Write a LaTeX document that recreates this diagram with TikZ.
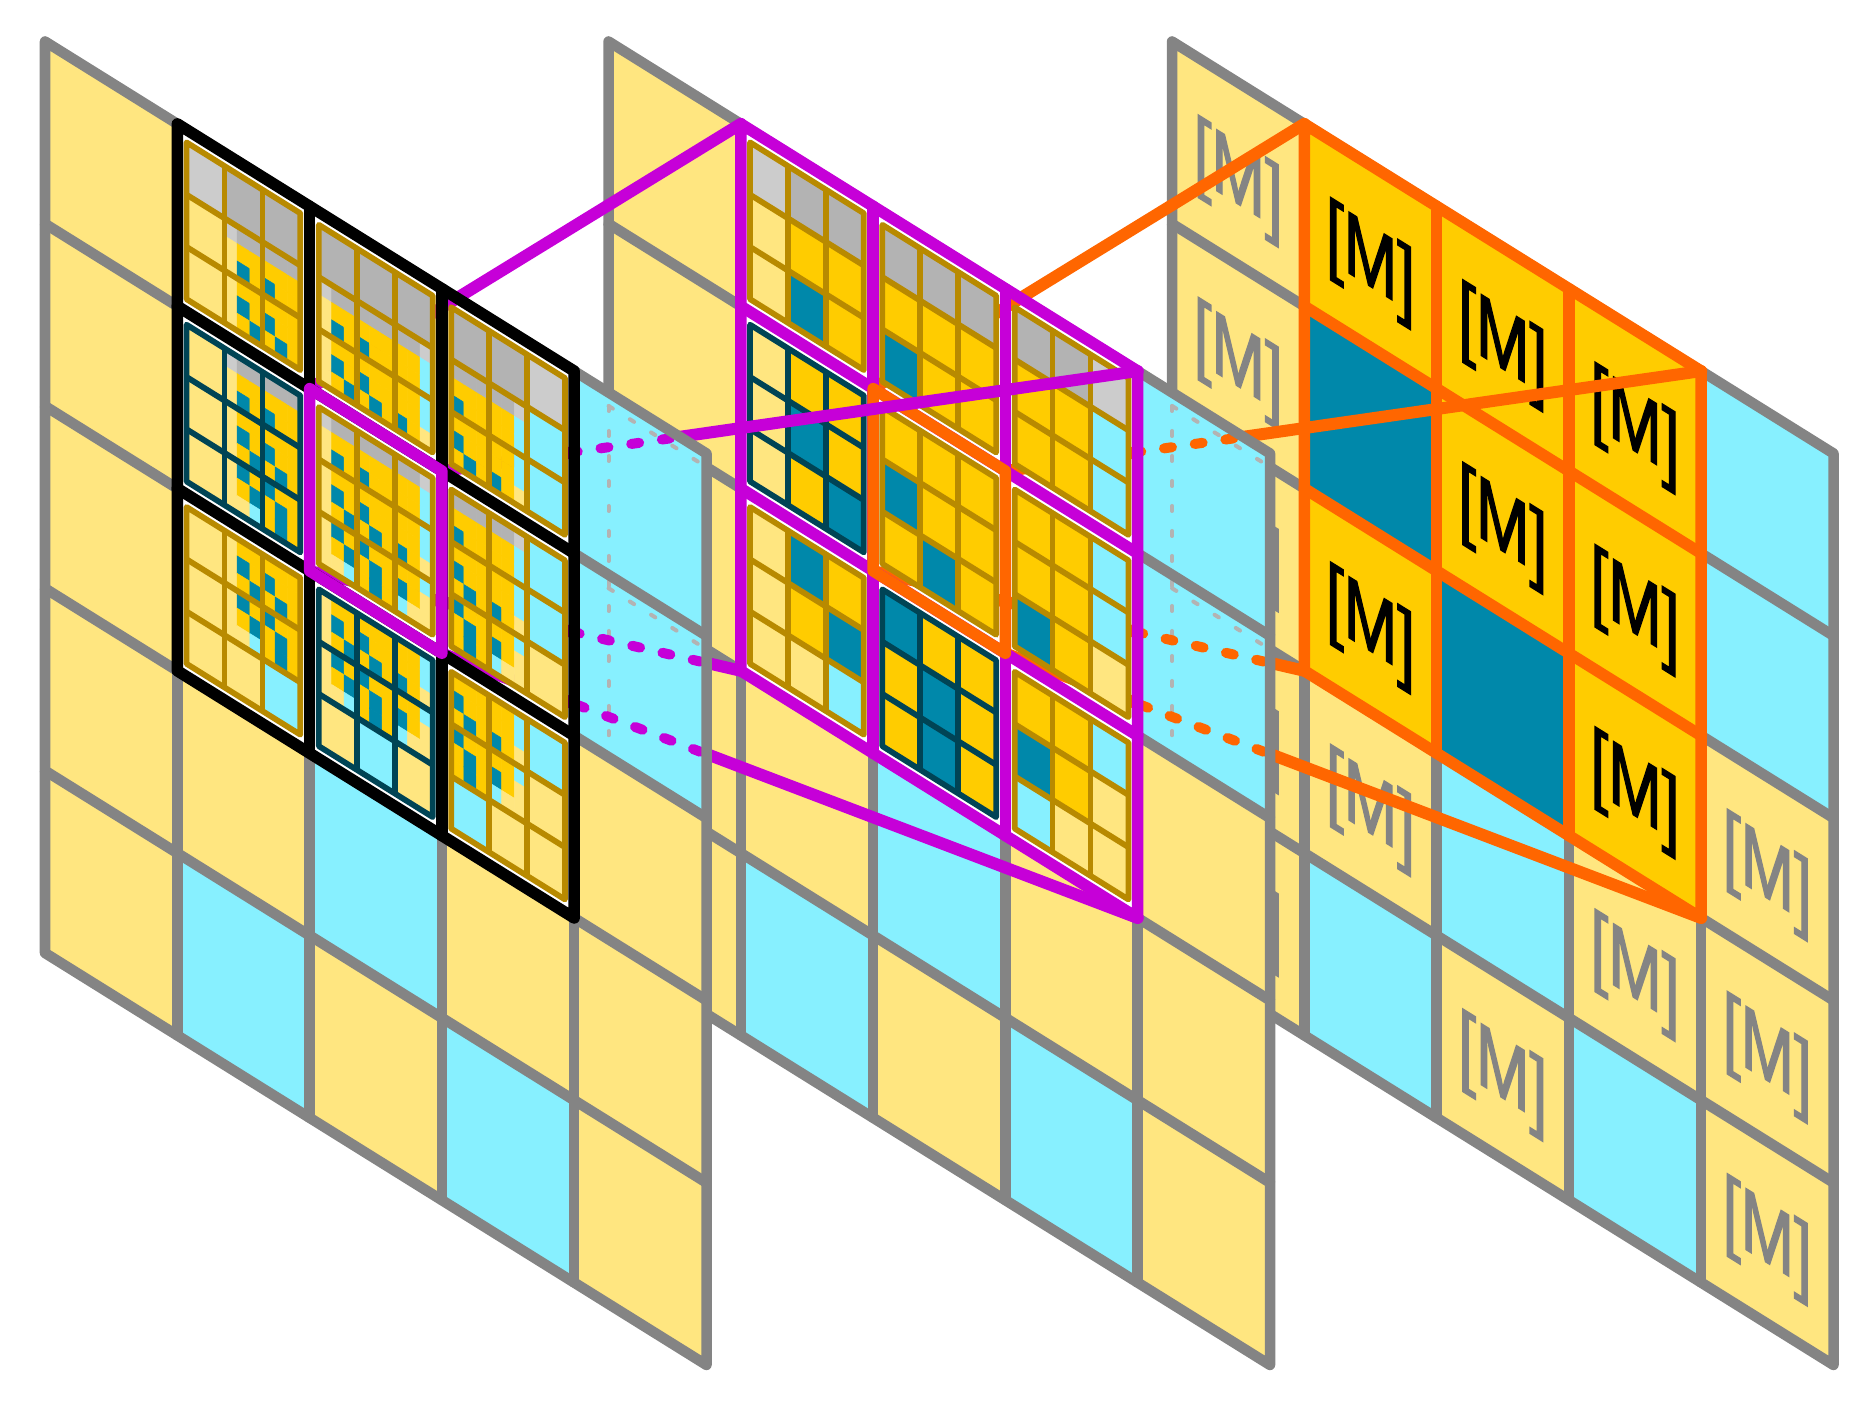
\documentclass[tikz,border=0pt]{standalone}
\usepackage{fontspec}
\newfontfamily\markfont[FakeBold=2]{Liberation Sans}
\usetikzlibrary{calc}
\definecolor{softyellow}{HTML}{FFE680}
\definecolor{softcyan}{HTML}{87F0FF}
\definecolor{strongyellow}{HTML}{FFCC00}
\definecolor{strongcyan}{HTML}{0088AA}
\definecolor{gridgray}{HTML}{848484}
\definecolor{edgegray}{HTML}{B3B3B3}
\definecolor{cornergray}{HTML}{CCCCCC}
\definecolor{boxbrown}{HTML}{B88A00}
\definecolor{boxteal}{HTML}{004455}
\definecolor{accentmag}{HTML}{C600D8}
\definecolor{accentorg}{HTML}{FF6600}

% the five by five map
\foreach \x/\y in {1/1,2/2,1/4,2/3,3/4,4/0,4/1} {\expandafter\gdef\csname iscyan\x\y\endcsname{}}
\newif\ifhot
\newcommand{\plainpick}[2]{%
  \def\pick{softyellow}%
  \ifcsname iscyan#1#2\endcsname\def\pick{softcyan}\fi
  \ifnum#2<0
    \def\pick{edgegray}%
    \ifnum#1=0 \def\pick{cornergray}\fi
    \ifnum#1=4 \def\pick{cornergray}\fi
  \fi}
\newcommand{\hotcheck}[2]{%
  \hotfalse
  \ifnum#1>0 \ifnum#1<4 \ifnum#2>-1 \ifnum#2<3 \hottrue\fi\fi\fi\fi}
\newcommand{\markpick}[4]{%
  \plainpick{#1}{#2}\hotcheck{#1}{#2}%
  \ifnum#3=2 \ifnum#4=2 \ifnum#2=3 \hottrue\fi\fi\fi
  \ifhot
    \def\pick{strongyellow}%
    \ifcsname iscyan#1#2\endcsname\def\pick{strongcyan}\fi
  \fi}

\newcommand{\namecorners}[4]{%
  \coordinate (#1 tl) at (#2,#3+#4);
  \coordinate (#1 tr) at (#2+#4,#3+#4);
  \coordinate (#1 bl) at (#2,#3);
  \coordinate (#1 br) at (#2+#4,#3);}
\newcommand{\planecells}{%
  \foreach \c in {0,...,4} \foreach \r in {0,...,4} {
    \plainpick{\c}{\r}
    \fill[fill=\pick] (\c,4-\r) rectangle (\c+1,5-\r);
  }}
\newcommand{\planegrid}{%
  \draw[gridline] (0,0) rectangle (5,5);
  \foreach \k in {1,...,4} {
    \draw[gridline] (\k,0) -- (\k,5);
    \draw[gridline] (0,\k) -- (5,\k);
  }}
\newcommand{\behindmarks}[3]{%
  \foreach \y in {3.926,4.926} \draw[hiddenline] (4.26,\y) -- (5,\y);
  \draw[hiddenline] (4.26,4.926) -- (4.26,3.12);
  \draw[linkdash,draw=#3] ($(#1 tr)!.372!(#2 tr)$) -- ($(#1 tr)!.18!(#2 tr)$);
  \draw[linkdash,draw=#3] ($(#1 bl)!.907!(#2 bl)$) -- ($(#1 bl)!.60!(#2 bl)$);
  \draw[linkdash,draw=#3] ($(#1 br)!.372!(#2 br)$) -- ($(#1 br)!.18!(#2 br)$);}
\newcommand{\frameback}[3]{%
  \fill[white] (1,2) rectangle (4,5);
  \begin{scope}
    \clip (1,2) rectangle (4,5);
    \foreach \p in {tl,tr,bl,br} \draw[linkline,draw=#3] (#1 \p) -- (#2 \p);
  \end{scope}}
\newcommand{\framegrid}[1]{%
  \draw[frameline,draw=#1] (1,2) rectangle (4,5);
  \foreach \k in {2,3} \draw[frameline,draw=#1] (\k,2) -- (\k,5);
  \foreach \k in {3,4} \draw[frameline,draw=#1] (1,\k) -- (4,\k);}
\newcommand{\boxoutline}[2]{%
  \def\ink{boxbrown}%
  \ifnum#1=1 \ifnum#2=1 \def\ink{boxteal}\fi\fi
  \ifnum#1=2 \ifnum#2=2 \def\ink{boxteal}\fi\fi
  \draw[boxline,draw=\ink] (#1+.07,4.07-#2) rectangle (#1+.93,4.93-#2);
  \foreach \k in {1,2} {
    \draw[boxline,draw=\ink] (#1+.07+\k*.28667,4.07-#2) -- (#1+.07+\k*.28667,4.93-#2);
    \draw[boxline,draw=\ink] (#1+.07,4.07-#2+\k*.28667) -- (#1+.93,4.07-#2+\k*.28667);
  }}
\newcommand{\plainbox}[2]{%
  \foreach \a in {0,1,2} \foreach \b in {0,1,2} {
    \edef\sx{\the\numexpr#1+\a-1\relax}\edef\sy{\the\numexpr#2+\b-1\relax}
    \markpick{\sx}{\sy}{#1}{#2}
    \path[patch,fill=\pick,draw=\pick] (#1+.07+\a*.28667,4.93-#2-\b*.28667) rectangle (#1+.07+\a*.28667+.28667,4.93-#2-\b*.28667-.28667);
  }
  \boxoutline{#1}{#2}}
\newcommand{\deepbox}[2]{%
  \foreach \a in {0,1,2} \foreach \b in {0,1,2} {
    \edef\sx{\the\numexpr#1+\a-1\relax}\edef\sy{\the\numexpr#2+\b-1\relax}
    \hotcheck{\sx}{\sy}
    \ifhot
      \foreach \p in {0,1,2} \foreach \q in {0,1,2} {
        \edef\tx{\the\numexpr\sx+\p-1\relax}\edef\ty{\the\numexpr\sy+\q-1\relax}
        \markpick{\tx}{\ty}{\sx}{\sy}
        \path[patch,fill=\pick,draw=\pick] (#1+.07+\a*.28667+\p*.09556,4.93-#2-\b*.28667-\q*.09556) rectangle (#1+.07+\a*.28667+\p*.09556+.09556,4.93-#2-\b*.28667-\q*.09556-.09556);
      }
    \else
      \plainpick{\sx}{\sy}
      \path[patch,fill=\pick,draw=\pick] (#1+.07+\a*.28667,4.93-#2-\b*.28667) rectangle (#1+.07+\a*.28667+.28667,4.93-#2-\b*.28667-.28667);
    \fi
  }
  \boxoutline{#1}{#2}}

\begin{document}
\begin{tikzpicture}[
  planeone/.style={cm={2.646,-1.648,0,3.646,(0.9,9.24)}},
  planetwo/.style={cm={2.646,-1.648,0,3.646,(12.17,9.24)}},
  planethree/.style={cm={2.646,-1.648,0,3.646,(23.44,9.24)}},
  gridline/.style={draw=gridgray,line width=.21cm,line join=round,line cap=round},
  frameline/.style={line width=.23cm,line join=round,line cap=round},
  boxline/.style={line width=.115cm,line join=round},
  linkline/.style={line width=.24cm,line cap=round},
  linkdash/.style={line width=.2cm,line cap=round,dash pattern=on .16cm off .46cm},
  hiddenline/.style={draw=edgegray,line width=.08cm,line cap=round,dash pattern=on .10cm off .40cm},
  patch/.style={line width=.01cm},
  cellmark/.style={transform shape,inner sep=0pt,font=\markfont\fontsize{13.8}{14}\selectfont}]
  \useasboundingbox (0,0) rectangle (37.46,28.3);

  \begin{scope}[planeone]
    \namecorners{boxone}{2}{3}{1}
  \end{scope}
  \begin{scope}[planetwo]
    \namecorners{boxtwo}{2}{3}{1}
    \namecorners{frametwo}{1}{2}{3}
  \end{scope}
  \begin{scope}[planethree]
    \namecorners{framethree}{1}{2}{3}
  \end{scope}

  % back plane
  \begin{scope}[planethree]
    \planecells
    \planegrid
    \foreach \c in {1,2,3} \foreach \r in {0,1,2} {
      \markpick{\c}{\r}{0}{0}
      \fill[fill=\pick] (\c,4-\r) rectangle (\c+1,5-\r);
    }
    \foreach \c in {0,...,4} \foreach \r in {0,...,4} {
      \hotcheck{\c}{\r}
      \def\ink{gridgray}
      \ifhot\def\ink{black}\fi
      \ifcsname iscyan\c\r\endcsname\else
        \node[cellmark,text=\ink] (mark\c\r) at (\c+.5,4.46-\r) {[M]};
      \fi
    }
    \framegrid{accentorg}
  \end{scope}
  \foreach \p in {tl,tr,bl,br} \draw[linkline,draw=accentorg] (boxtwo \p) -- (framethree \p);

  % middle plane
  \begin{scope}[planetwo]
    \planecells
    \behindmarks{boxtwo}{framethree}{accentorg}
    \planegrid
    \frameback{boxtwo}{framethree}{accentorg}
    \foreach \c in {1,2,3} \foreach \r in {0,1,2} {\plainbox{\c}{\r}}
    \framegrid{accentmag}
    \draw[frameline,draw=accentorg] (2,3) rectangle (3,4);
  \end{scope}
  \foreach \p in {tl,tr,bl,br} \draw[linkline,draw=accentmag] (boxone \p) -- (frametwo \p);

  % front plane
  \begin{scope}[planeone]
    \planecells
    \behindmarks{boxone}{frametwo}{accentmag}
    \planegrid
    \frameback{boxone}{frametwo}{accentmag}
    \foreach \c in {1,2,3} \foreach \r in {0,1,2} {\deepbox{\c}{\r}}
    \framegrid{black}
    \draw[frameline,draw=accentmag] (2,3) rectangle (3,4);
  \end{scope}
\end{tikzpicture}
\end{document}
